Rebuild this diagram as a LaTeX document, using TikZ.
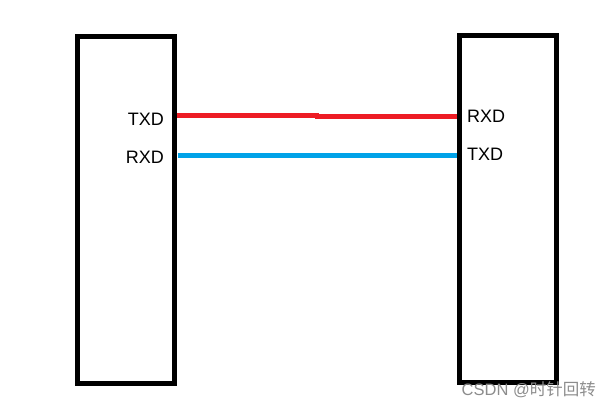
\documentclass[tikz,border=0pt]{standalone}
\usepackage{fontspec}
\setmainfont{Liberation Sans}
\newfontfamily\cjkfont{Noto Sans CJK SC}
\usepackage{tikz}
\usetikzlibrary{calc}
\definecolor{wirered}{RGB}{237,28,36}
\definecolor{wireblue}{RGB}{0,162,232}
\tikzset{
  chip/.style={draw=black,line width=5pt,minimum width=#1,minimum height=347pt,inner sep=0pt},
  pin/.style={inner sep=0pt,font=\fontsize{18}{20}\selectfont},
  wire/.style={line width=4.5pt}
}

\begin{document}
\begin{tikzpicture}[x=1pt,y=-1pt]
            \useasboundingbox (0,0) rectangle (613,410);
            \node[chip=96.5pt] (leftchip) at (125.75,210.25) {}; %左边的板子
            \node[chip=97.5pt] (rightchip) at (507.75,209) {};
            \coordinate (ltx) at (leftchip.east |- 0,115.5);
            \coordinate (lrx) at (leftchip.east |- 0,155.5);
            \coordinate (rrx) at (rightchip.west |- 0,116.7);
            \coordinate (rtx) at (rightchip.west |- 0,155.5);
            \node[pin,anchor=base east] (ltxt) at (164,125) {TXD};
            \node[pin,anchor=base east] (lrxt) at (164,163.3) {RXD};
            \node[pin,anchor=base west] (rrxt) at (467,122.3) {RXD};
            \node[pin,anchor=base west] (rtxt) at (467,160.7) {TXD};
            \draw[wire,wirered] (ltx) -- ($(ltx)+(142,0)$); %连线
            \draw[wire,wirered] (rrx) -- ($(rrx)+(-142,0)$);
            \draw[wire,wireblue] ($(lrx)+(1,0)$) -- (rtx);
            \node[anchor=base west,inner sep=0pt,text=black!45,font=\fontsize{16.5}{18}\selectfont] (mark) at (461.5,395.5) {CSDN @{\cjkfont 时针回转}};
        \end{tikzpicture}
\end{document}
